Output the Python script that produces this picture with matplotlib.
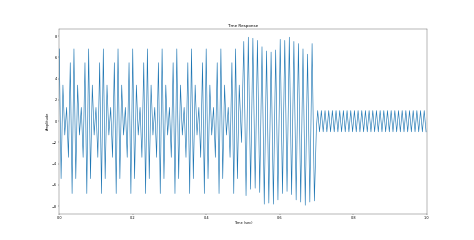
import numpy as np
import matplotlib
matplotlib.use('Agg')
import matplotlib.pyplot as plt

## DATA (peaks / troughs)

# first part: 100 Hz carrier, repeating 25 Hz beat pattern, one extremum every 5 ms
early_step = 0.005
early_vals = [
    6.8, -5.4, 3.4, -1.3, 1.3, -3.4, 5.5, -6.8,
    6.8, -5.4, 3.4, -1.3, 1.3, -3.4, 5.5, -6.8,
    6.8, -5.4, 3.4, -1.3, 1.3, -3.4, 5.5, -6.8,
    6.8, -5.4, 3.4, -1.3, 1.3, -3.4, 5.5, -6.8,
    6.8, -5.4, 3.4, -1.3, 1.3, -3.4, 5.5, -6.8,
    6.8, -5.4, 3.4, -1.3, 1.3, -3.4, 5.5, -6.8,
    6.8, -5.4, 3.4, -1.3, 1.3, -3.4, 5.5, -6.8,
    6.8, -5.4, 3.4, -1.3, 1.3, -3.4, 5.5, -6.8,
    6.8, -5.4, 3.4, -1.3, 1.3, -3.4, 5.5, -6.8,
    6.8, -5.4, 3.4, -1.3, 1.3, -3.4, 5.5, -6.8,
    6.8, -5.4, 3.4, -1.3, 1.3, -3.4, 5.5, -6.8,
    6.8, -5.4, 3.4, -1.3, 1.3, -3.4, 5.5, -6.8,
    6.8, -5.4, 3.4,
]

# switch-over point between the two parts
trans1_t = 0.4962
trans1_val = -2.0

# second part: louder, ~80 Hz
late_start = 0.5023
late_step = 0.0062
late_vals = [
    7.5, -7.0, 7.9, -6.4, 7.8, -6.3, 7.6, -6.7,
    7.0, -7.8, 6.6, -7.7, 6.5, -7.8, 6.7, -7.4,
    7.7, -6.8, 7.6, -6.6, 7.9, -6.9, 7.5, -7.4,
    7.3, -7.6, 6.8, -7.9, 6.3, -7.6, 7.3, -7.5,
]

trans2_t = 0.700
trans2_val = -0.6

# last part: 100 Hz, amplitude 1
post_start = 0.7035
post_step = 0.005
post_vals = [
    1.0, -1.0, 1.0, -1.0, 1.0, -1.0, 1.0, -1.0, 1.0, -1.0,
    1.0, -1.0, 1.0, -1.0, 1.0, -1.0, 1.0, -1.0, 1.0, -1.0,
    1.0, -1.0, 1.0, -1.0, 1.0, -1.0, 1.0, -1.0, 1.0, -1.0,
    1.0, -1.0, 1.0, -1.0, 1.0, -1.0, 1.0, -1.0, 1.0, -1.0,
    1.0, -1.0, 1.0, -1.0, 1.0, -1.0, 1.0, -1.0, 1.0, -1.0,
    1.0, -1.0, 1.0, -1.0, 1.0, -1.0, 1.0, -1.0, 1.0, -1.0,
]

## BUILD TIME AXIS

early_t = np.arange(len(early_vals)) * early_step
late_t = late_start + np.arange(len(late_vals)) * late_step
post_t = post_start + np.arange(len(post_vals)) * post_step

t = np.concatenate([early_t, [trans1_t], late_t, [trans2_t], post_t])
y = np.concatenate([early_vals, [trans1_val], late_vals, [trans2_val], post_vals])

## PLOT

fig = plt.figure(figsize=(18.96, 9.6), dpi=25)
plt.plot(t, y, linewidth=1.8)
plt.xlim(0, 1)
plt.title('Time Response')
plt.xlabel('Time (sec)')
plt.ylabel('Amplitude')
plt.savefig('out.png', dpi=25)
